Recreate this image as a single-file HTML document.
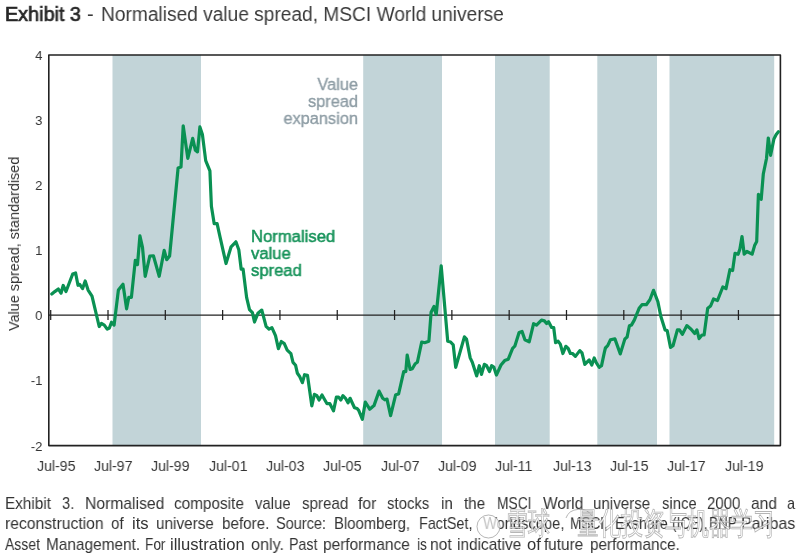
<!DOCTYPE html>
<html><head><meta charset="utf-8">
<style>
html,body{margin:0;padding:0;background:#fff;}
body{width:800px;height:553px;position:relative;overflow:hidden;font-family:"Liberation Sans",sans-serif;color:#222;-webkit-font-smoothing:antialiased;}
.t,.yl,.xl,.cap div{will-change:transform;}
.t{position:absolute;white-space:nowrap;transform-origin:0 0;}
svg{position:absolute;left:0;top:0;}
.yl{position:absolute;left:0;width:42.4px;text-align:right;font-size:13.4px;line-height:16px;color:#333;transform-origin:100% 0;transform:scaleX(0.97);}
.xl{position:absolute;top:456.8px;font-size:14.5px;line-height:18px;color:#333;white-space:nowrap;transform-origin:0 0;transform:scaleX(0.975);}
.cap div{position:absolute;white-space:nowrap;transform-origin:0 0;font-size:16.6px;line-height:20px;color:#333;}
</style></head><body>
<div class="t" id="t1" style="left:5px;top:2px;font-size:20px;font-weight:normal;line-height:24px;color:#262626;transform:scaleX(0.99);-webkit-text-stroke:0.7px #262626">Exhibit 3</div>
<div class="t" id="t2d" style="left:87px;top:2px;font-size:20px;line-height:24px;color:#3a3a3a;transform:scaleX(0.965)">-</div><div class="t" id="t2" style="left:101px;top:2px;font-size:20px;line-height:24px;color:#3a3a3a;transform:scaleX(0.957)">Normalised value spread, MSCI World universe</div>
<svg id="chart" width="800" height="553" viewBox="0 0 800 553">
<g fill="#c2d4d8"><rect x="112.5" y="55" width="88.5" height="390.5"/><rect x="363.2" y="55" width="78.8" height="390.5"/><rect x="495.0" y="55" width="54.7" height="390.5"/><rect x="597.3" y="55" width="59.7" height="390.5"/><rect x="669.5" y="55" width="104.7" height="390.5"/></g>
<line x1="49" y1="315.1" x2="780.5" y2="315.1" stroke="#222" stroke-width="1.25"/>
<g stroke="#222" stroke-width="1.25"><line x1="50.70" y1="310" x2="50.70" y2="320"/><line x1="108.01" y1="310" x2="108.01" y2="320"/><line x1="165.32" y1="310" x2="165.32" y2="320"/><line x1="222.63" y1="310" x2="222.63" y2="320"/><line x1="279.94" y1="310" x2="279.94" y2="320"/><line x1="337.25" y1="310" x2="337.25" y2="320"/><line x1="394.56" y1="310" x2="394.56" y2="320"/><line x1="451.87" y1="310" x2="451.87" y2="320"/><line x1="509.18" y1="310" x2="509.18" y2="320"/><line x1="566.49" y1="310" x2="566.49" y2="320"/><line x1="623.80" y1="310" x2="623.80" y2="320"/><line x1="681.11" y1="310" x2="681.11" y2="320"/><line x1="738.42" y1="310" x2="738.42" y2="320"/></g>
<path d="M48.8 55 H780.4 V445.6 H48.8 Z" fill="none" stroke="#222" stroke-width="1.6" stroke-linejoin="round"/>
<polyline points="51.8,294.1 54.8,291.6 58.3,289.0 61.0,293.2 63.2,285.5 66.0,291.5 72.7,274.0 75.6,273.0 78.0,285.3 79.7,284.3 82.6,288.6 85.2,281.0 88.1,290.1 92.0,296.2 99.2,326.5 101.4,323.4 104.3,325.1 107.2,329.2 109.4,328.0 111.5,322.2 114.1,325.1 118.4,290.0 123.0,284.2 126.6,308.8 128.8,297.3 131.4,297.3 135.3,260.4 137.5,264.7 139.9,235.8 142.5,247.4 145.2,276.3 149.8,256.0 153.4,255.8 159.2,276.3 164.2,250.3 166.7,259.7 169.6,256.0 178.1,168.0 181.0,167.0 183.2,125.8 187.8,158.4 192.7,138.3 195.4,150.3 197.5,151.9 199.9,126.9 202.4,134.5 205.7,160.6 209.9,170.8 211.4,206.3 214.2,223.7 217.1,223.7 220.3,238.1 226.0,263.5 231.1,246.8 235.9,241.8 238.8,249.7 241.2,269.2 243.1,269.2 246.6,297.4 249.5,309.7 252.4,312.6 254.5,322.0 257.9,313.3 261.8,310.1 266.1,326.3 269.0,329.2 271.9,327.7 275.5,335.7 278.4,348.7 281.3,341.5 284.3,343.6 287.2,350.1 290.9,353.7 293.0,362.4 295.6,365.3 297.4,373.3 299.5,376.2 302.4,382.7 304.6,374.7 307.5,375.4 311.8,405.8 314.4,394.3 316.9,395.7 319.1,400.0 322.0,395.0 327.0,403.7 329.9,403.7 333.5,410.9 336.4,397.1 338.6,397.1 340.8,400.0 342.9,395.7 345.5,398.3 348.0,402.8 350.1,398.3 354.5,407.7 357.1,408.5 358.8,410.6 362.4,419.3 365.3,402.0 369.7,409.2 374.0,405.6 379.1,391.1 382.7,398.3 384.8,399.8 387.0,399.1 390.6,415.7 395.7,394.7 398.6,394.0 403.7,371.6 405.8,371.6 407.2,355.0 410.1,369.4 412.3,368.7 415.2,363.7 417.4,362.2 421.7,342.0 424.6,342.7 428.9,341.2 431.1,312.3 434.0,306.5 436.2,314.5 441.2,265.8 447.7,341.2 450.6,342.0 453.2,344.8 455.7,367.3 464.4,336.9 466.5,339.1 470.2,357.9 472.3,362.2 476.7,375.9 479.3,365.7 481.5,374.4 484.4,364.3 486.6,365.7 489.5,371.5 491.6,365.7 493.8,367.1 496.4,375.1 501.0,365.0 504.7,360.6 508.3,359.2 512.6,348.3 514.8,346.2 519.1,332.4 522.0,331.4 524.9,339.7 529.2,341.8 533.6,323.7 536.5,325.2 541.5,320.1 544.4,320.9 546.6,323.5 548.6,321.7 551.6,327.5 553.7,327.5 555.6,342.7 558.1,341.2 560.3,344.1 562.9,353.5 565.8,346.3 568.2,348.5 570.4,353.5 572.5,353.5 575.4,356.4 579.8,350.6 582.0,352.8 584.8,364.4 589.2,360.0 591.8,365.1 594.2,357.9 596.4,362.9 599.3,367.3 601.5,365.8 604.4,352.1 605.4,348.0 607.7,345.7 610.4,339.8 614.9,338.9 620.3,353.9 624.9,338.9 627.1,337.1 629.4,325.8 631.6,324.9 634.4,319.9 639.1,308.3 642.0,304.7 646.3,304.7 649.9,299.7 653.5,290.3 657.9,301.8 660.8,316.3 665.1,330.0 667.2,330.6 670.5,347.5 673.0,345.8 677.4,329.9 679.5,329.9 682.4,334.3 686.8,325.6 691.1,329.2 694.7,333.5 696.9,329.9 699.1,338.6 702.0,335.0 704.1,335.0 707.7,308.2 710.6,306.0 713.5,299.0 717.5,300.5 722.8,287.0 726.0,288.7 729.9,269.7 732.6,270.6 735.0,253.4 738.1,254.3 739.9,248.9 742.0,236.5 744.2,254.2 746.9,251.5 752.1,254.2 754.6,245.6 756.7,241.5 758.4,194.3 761.2,199.3 763.3,174.0 766.5,158.5 768.3,138.0 770.6,155.3 773.9,139.0 776.2,134.5 778.4,131.8" fill="none" stroke="#0a9153" stroke-width="3.2" stroke-linejoin="round" stroke-linecap="round"/>
</svg>
<div class="yl" id="yl0" style="top:48.20px">4</div><div class="yl" id="yl1" style="top:113.25px">3</div><div class="yl" id="yl2" style="top:178.30px">2</div><div class="yl" id="yl3" style="top:243.35px">1</div><div class="yl" id="yl4" style="top:308.40px">0</div><div class="yl" id="yl5" style="top:373.45px">-1</div><div class="yl" id="yl6" style="top:438.50px">-2</div>
<div class="xl" id="xl0" style="left:36.80px">Jul-95</div><div class="xl" id="xl1" style="left:94.11px">Jul-97</div><div class="xl" id="xl2" style="left:151.42px">Jul-99</div><div class="xl" id="xl3" style="left:208.73px">Jul-01</div><div class="xl" id="xl4" style="left:266.04px">Jul-03</div><div class="xl" id="xl5" style="left:323.35px">Jul-05</div><div class="xl" id="xl6" style="left:380.66px">Jul-07</div><div class="xl" id="xl7" style="left:437.97px">Jul-09</div><div class="xl" id="xl8" style="left:495.28px">Jul-11</div><div class="xl" id="xl9" style="left:552.59px">Jul-13</div><div class="xl" id="xl10" style="left:609.90px">Jul-15</div><div class="xl" id="xl11" style="left:667.21px">Jul-17</div><div class="xl" id="xl12" style="left:724.52px">Jul-19</div>
<div class="t" id="ytitle" style="left:5px;top:331px;font-size:15px;line-height:18px;color:#333;transform:rotate(-90deg) scaleX(0.96)">Value spread, standardised</div>
<div class="t" id="green" style="left:251px;top:228.9px;font-size:16.9px;font-weight:normal;line-height:16.9px;color:#17935a;transform:scaleX(0.985);-webkit-text-stroke:0.5px #17935a">Normalised<br>value<br>spread</div>
<div class="t" id="gray" style="left:241.8px;top:76.9px;width:116px;text-align:right;font-size:16.7px;line-height:16.9px;color:#8d9ca4;transform-origin:100% 0;transform:scaleX(0.98);-webkit-text-stroke:0.35px #8d9ca4">Value<br>spread<br>expansion</div>
<div class="cap"><div style="top:494px;left:5.08px;transform:scaleX(0.923)">Exhibit</div><div style="top:494px;left:62.21px;transform:scaleX(0.887)">3.</div><div style="top:494px;left:84.65px;transform:scaleX(0.945)">Normalised</div><div style="top:494px;left:173.83px;transform:scaleX(0.924)">composite</div><div style="top:494px;left:255.00px;transform:scaleX(0.897)">value</div><div style="top:494px;left:301.59px;transform:scaleX(0.913)">spread</div><div style="top:494px;left:358.10px;transform:scaleX(0.955)">for</div><div style="top:494px;left:387.20px;transform:scaleX(0.898)">stocks</div><div style="top:494px;left:440.99px;transform:scaleX(0.909)">in</div><div style="top:494px;left:464.40px;transform:scaleX(0.922)">the</div><div style="top:494px;left:496.67px;transform:scaleX(0.833)">MSCI</div><div style="top:494px;left:543.10px;transform:scaleX(0.938)">World</div><div style="top:494px;left:593.49px;transform:scaleX(0.911)">universe</div><div style="top:494px;left:661.61px;transform:scaleX(0.895)">since</div><div style="top:494px;left:707.20px;transform:scaleX(0.903)">2000</div><div style="top:494px;left:750.96px;transform:scaleX(0.937)">and</div><div style="top:494px;left:787.24px;transform:scaleX(0.862)">a</div><div style="top:514px;left:5.05px;transform:scaleX(0.946)">reconstruction</div><div style="top:514px;left:110.99px;transform:scaleX(0.912)">of</div><div style="top:514px;left:131.77px;transform:scaleX(0.983)">its</div><div style="top:514px;left:155.98px;transform:scaleX(0.921)">universe</div><div style="top:514px;left:221.58px;transform:scaleX(0.918)">before.</div><div style="top:514px;left:276.03px;transform:scaleX(0.875)">Source:</div><div style="top:514px;left:334.10px;transform:scaleX(0.896)">Bloomberg,</div><div style="top:514px;left:419.13px;transform:scaleX(0.865)">FactSet,</div><div style="top:514px;left:483.10px;transform:scaleX(0.886)">Worldscope,</div><div style="top:514px;left:570.18px;transform:scaleX(0.820)">MSCI,</div><div style="top:514px;left:614.74px;transform:scaleX(0.865)">Exshare</div><div style="top:514px;left:672.18px;transform:scaleX(0.820)">(ICE),</div><div style="top:514px;left:709.18px;transform:scaleX(0.820)">BNP</div><div style="top:514px;left:740.53px;transform:scaleX(0.965)">Paribas</div><div style="top:534.5px;left:5.25px;transform:scaleX(0.842)">Asset</div><div style="top:534.5px;left:45.97px;transform:scaleX(0.928)">Management.</div><div style="top:534.5px;left:145.43px;transform:scaleX(0.820)">For</div><div style="top:534.5px;left:170.25px;transform:scaleX(1.000)">illustration</div><div style="top:534.5px;left:250.93px;transform:scaleX(0.975)">only.</div><div style="top:534.5px;left:289.14px;transform:scaleX(0.859)">Past</div><div style="top:534.5px;left:322.82px;transform:scaleX(0.931)">performance</div><div style="top:534.5px;left:416.68px;transform:scaleX(0.820)">is</div><div style="top:534.5px;left:429.66px;transform:scaleX(0.939)">not</div><div style="top:534.5px;left:456.57px;transform:scaleX(0.928)">indicative</div><div style="top:534.5px;left:527.10px;transform:scaleX(1.000)">of</div><div style="top:534.5px;left:544.40px;transform:scaleX(0.921)">future</div><div style="top:534.5px;left:590.33px;transform:scaleX(0.918)">performance.</div></div>
<svg style="position:absolute;left:0;top:0" width="800" height="553"><g fill="rgba(255,255,255,0.7)" stroke="rgba(110,110,110,0.5)" stroke-width="1"><circle cx="488.5" cy="526.5" r="11.5"/><path d="M566 518 a14 12 0 0 1 26 -2"/></g></svg>
<div id="wm1" style="position:absolute;top:506px;font-size:31px;line-height:36px;white-space:nowrap;color:rgba(255,255,255,0.85);-webkit-text-stroke:0.9px rgba(110,110,110,0.5);transform-origin:0 0;transform:scaleX(0.71);font-family:'Liberation Sans',sans-serif;left:506px">雪球</div>
<div id="wm" style="position:absolute;top:506px;font-size:31px;line-height:36px;white-space:nowrap;color:rgba(255,255,255,0.85);-webkit-text-stroke:0.9px rgba(110,110,110,0.5);transform-origin:0 0;transform:scaleX(0.71);font-family:'Liberation Sans',sans-serif;left:577px">量化投资与机器学习</div>
</body></html>
